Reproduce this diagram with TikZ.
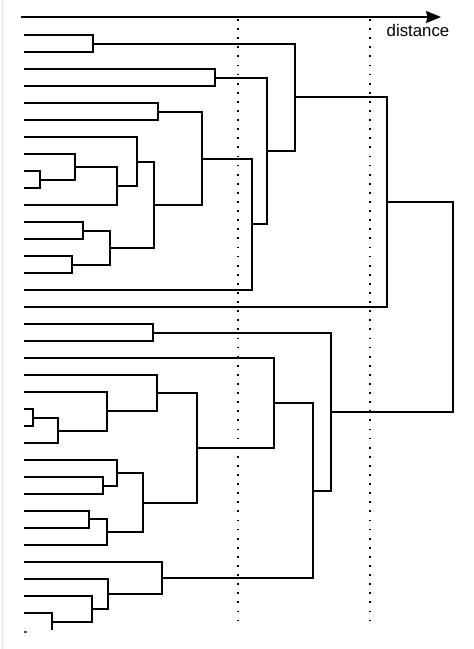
\documentclass[tikz,border=0pt]{standalone}
\usepackage{fontspec}
\setmainfont{Liberation Sans}
\usetikzlibrary{arrows.meta}
\begin{document}
\begin{tikzpicture}[x=1pt,y=-1pt,
  tree/.style={line width=2.2pt},
  axisline/.style={line width=1.2pt,-{Stealth[length=15pt,width=12pt,inset=1.5pt]}},
  guide/.style={line width=1.8pt,dash pattern=on 1.8pt off 7.3pt},
  lbltext/.style={font=\fontsize{16.8}{20}\selectfont,inner sep=0pt}]
\useasboundingbox (0,0) rectangle (474,649);
\fill[white] (0,0) rectangle (474,649);
\draw[black!12,line width=0.8pt] (2.5,0) -- (2.5,649);
% leaves
\foreach \i in {1,...,35}
  \coordinate (L\i) at (24,{35+17*(\i-1)});
\coordinate (L36) at (52,630);
% merge points
\coordinate (A) at (93,44);
\coordinate (B) at (215,78);
\coordinate (C1) at (158,112);
\coordinate (H) at (40,180);
\coordinate (G) at (75,167);
\coordinate (F) at (117,186);
\coordinate (E) at (137,162);
\coordinate (J) at (83,231);
\coordinate (K) at (72,265);
\coordinate (I) at (110,248);
\coordinate (D) at (154,205);
\coordinate (C) at (202,159);
\coordinate (M) at (252,224);
\coordinate (N) at (267,151);
\coordinate (O) at (295,97);
\coordinate (P) at (387,202);
\coordinate (Q1) at (153,333);
\coordinate (X) at (33,418);
\coordinate (W) at (58,431);
\coordinate (V) at (107,411);
\coordinate (U) at (157,393);
\coordinate (AA) at (103,486);
\coordinate (Z) at (117,473);
\coordinate (AC) at (89,519);
\coordinate (AB) at (107,532);
\coordinate (Y) at (143,503);
\coordinate (T) at (197,448);
\coordinate (R) at (274,403);
\coordinate (AG) at (52,622);
\coordinate (AF) at (92,609);
\coordinate (AE) at (108,594);
\coordinate (AD) at (162,578);
\coordinate (S) at (313,491);
\coordinate (Q) at (331,412);
\coordinate (Root) at (453,307);
% guides
\coordinate (g1t) at (238,19); \coordinate (g1b) at (238,620);
\coordinate (g2t) at (370,19); \coordinate (g2b) at (370,620);
\draw[guide] (g1t) -- (g1b);
\draw[guide] (g2t) -- (g2b);
% axis
\coordinate (ax0) at (21,17); \coordinate (ax1) at (441,17);
\draw[axisline] (ax0) -- (ax1);
\node[lbltext,anchor=base west] (lbl) at (386.5,36) {distance};
% tree
\draw[tree] (L1) -| (A) |- (L2);
\draw[tree] (L3) -| (B) |- (L4);
\draw[tree] (L5) -| (C1) |- (L6);
\draw[tree] (L9) -| (H) |- (L10);
\draw[tree] (L8) -| (G) |- (H);
\draw[tree] (G) -| (F) |- (L11);
\draw[tree] (L7) -| (E) |- (F);
\draw[tree] (L12) -| (J) |- (L13);
\draw[tree] (L14) -| (K) |- (L15);
\draw[tree] (J) -| (I) |- (K);
\draw[tree] (E) -| (D) |- (I);
\draw[tree] (C1) -| (C) |- (D);
\draw[tree] (C) -| (M) |- (L16);
\draw[tree] (B) -| (N) |- (M);
\draw[tree] (A) -| (O) |- (N);
\draw[tree] (O) -| (P) |- (L17);
\draw[tree] (L18) -| (Q1) |- (L19);
\draw[tree] (L23) -| (X) |- (L24);
\draw[tree] (X) -| (W) |- (L25);
\draw[tree] (L22) -| (V) |- (W);
\draw[tree] (L21) -| (U) |- (V);
\draw[tree] (L27) -| (AA) |- (L28);
\draw[tree] (L26) -| (Z) |- (AA);
\draw[tree] (L29) -| (AC) |- (L30);
\draw[tree] (AC) -| (AB) |- (L31);
\draw[tree] (Z) -| (Y) |- (AB);
\draw[tree] (U) -| (T) |- (Y);
\draw[tree] (L20) -| (R) |- (T);
\draw[tree] (L35) -| (AG) |- (L36);
\draw[tree] (L34) -| (AF) |- (AG);
\draw[tree] (L33) -| (AE) |- (AF);
\draw[tree] (L32) -| (AD) |- (AE);
\draw[tree] (R) -| (S) |- (AD);
\draw[tree] (Q1) -| (Q) |- (S);
\draw[tree] (P) -| (Root) |- (Q);
\coordinate (mk0) at (24,632); \coordinate (mk1) at (26.5,632);
\draw[line width=1.2pt,black!70] (mk0) -- (mk1);
\end{tikzpicture}
\end{document}
